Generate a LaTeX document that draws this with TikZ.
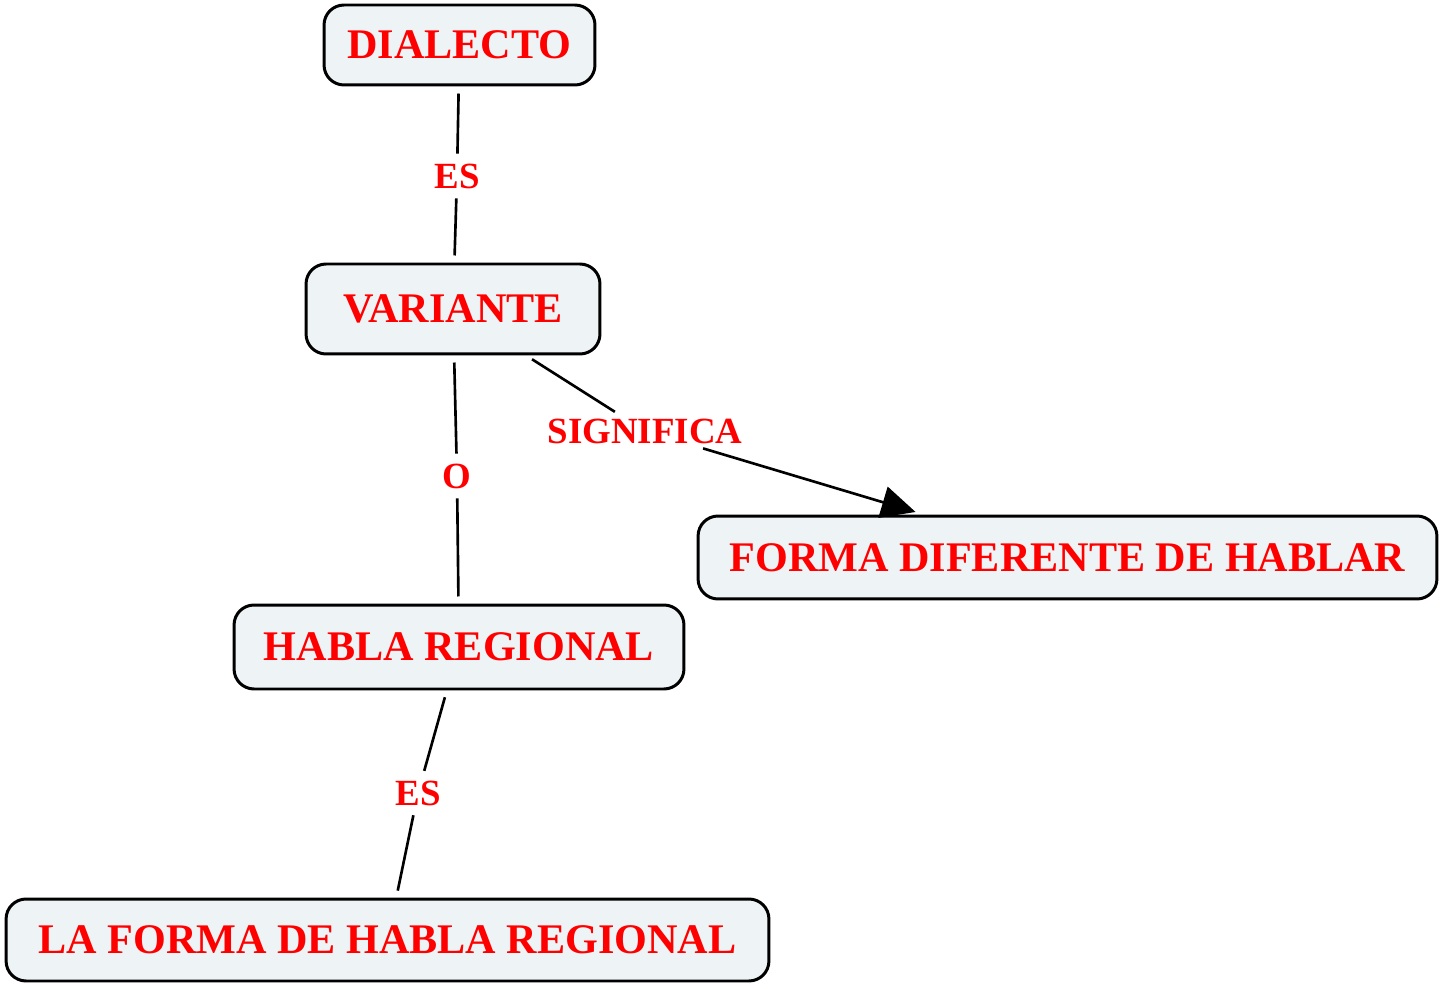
\documentclass[tikz,border=0pt]{standalone}
\usepackage{fontspec}
\setmainfont{Liberation Serif}
\usepackage{tikz}
\usetikzlibrary{arrows.meta}
\definecolor{conceptfill}{HTML}{EEF4F6}
\definecolor{conceptred}{HTML}{FF0000}

\begin{document}
\begin{tikzpicture}[x=0.02cm, y=-0.02cm,
    concept/.style={draw, line width=1.7pt, rounded corners=0.4cm, fill=conceptfill,
        text=conceptred, font=\fontsize{24}{28}\selectfont\bfseries, inner sep=0pt},
    linklabel/.style={text=conceptred, font=\fontsize{21}{24}\selectfont\bfseries, inner sep=1.5pt},
    link/.style={line width=1.5pt, shorten >=4pt, shorten <=4pt}]
    \useasboundingbox (0,0) rectangle (1443,989);
    % conceptos
        \node[concept, minimum width=5.42cm, minimum height=1.6cm] (dialecto) at (459.5,45) {DIALECTO};
        \node[concept, minimum width=5.88cm, minimum height=1.8cm] (variante) at (453,309) {VARIANTE};
        \node[concept, minimum width=14.78cm, minimum height=1.66cm] (formadif) at (1067.5,557.5) {FORMA DIFERENTE DE HABLAR};
        \node[concept, minimum width=9cm, minimum height=1.68cm] (habla) at (459,647) {HABLA REGIONAL};
        \node[concept, minimum width=15.26cm, minimum height=1.64cm] (laforma) at (387.5,940) {LA FORMA DE HABLA REGIONAL};
    % palabras de enlace
        \node[linklabel] (es1) at (457,176) {ES};
        \node[linklabel] (sig) at (645,431) {SIGNIFICA};
        \node[linklabel] (o) at (457,476) {O};
        \node[linklabel] (es2) at (418,793) {ES};
    % conexiones
        \draw [link] (dialecto) -- (es1);
        \draw [link] (es1) -- (variante);
        \draw [link] (variante) -- (sig);
        \draw [link, shorten >=5pt, -{Triangle[length=0.68cm, width=0.64cm]}] (sig) -- (formadif);
        \draw [link] (variante) -- (o);
        \draw [link] (o) -- (habla);
        \draw [link] (habla) -- (es2);
        \draw [link] (es2) -- (laforma);
    \end{tikzpicture}
\end{document}
